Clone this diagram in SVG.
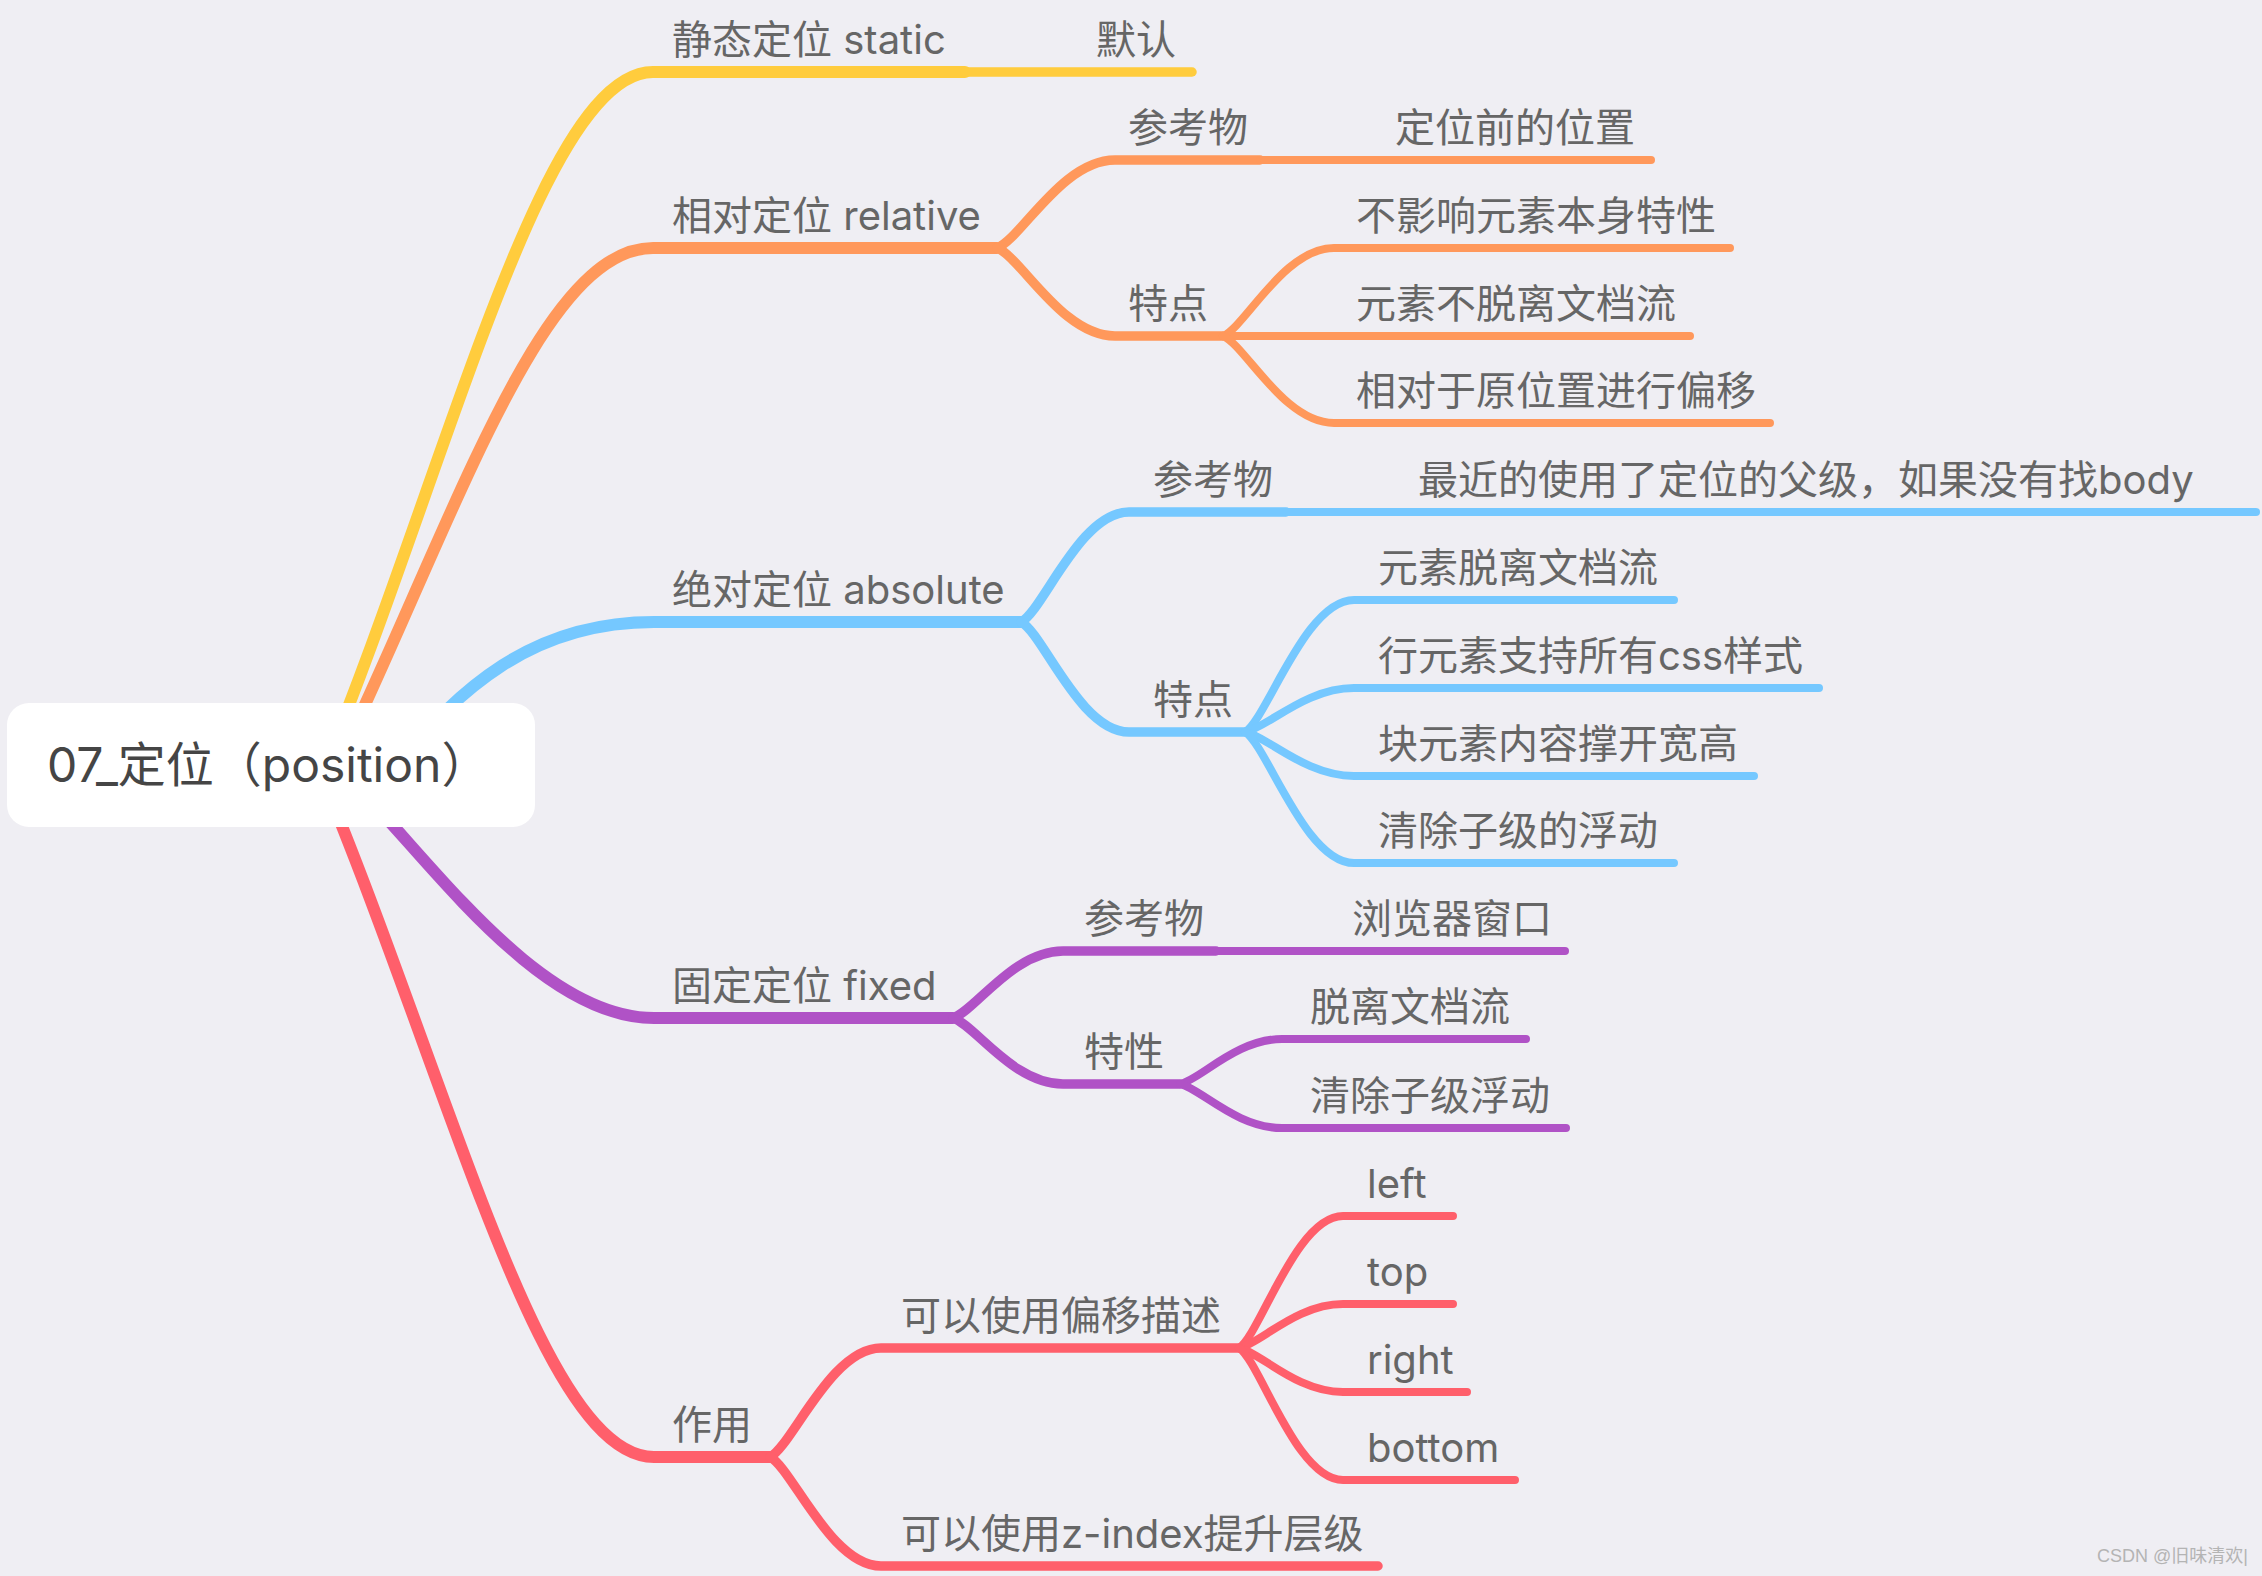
<svg xmlns="http://www.w3.org/2000/svg" width="2262" height="1576" viewBox="0 0 2262 1576">
<style>
.t{font-family:"Inter","Noto Sans CJK SC",sans-serif;font-size:40px;fill:#666}
.root{font-family:"Inter","Noto Sans CJK SC",sans-serif;font-size:48px;fill:#454545}
.wm{font-family:"Liberation Sans","Noto Sans CJK SC",sans-serif;font-size:18px;fill:#b4b4b4}
path{fill:none;stroke-linecap:round;stroke-linejoin:round}
.l1{stroke-width:12}
.l2{stroke-width:9.5}
.l3{stroke-width:8}
.y{stroke:#ffcc3d}
.o{stroke:#ff985b}
.b{stroke:#75c8ff}
.p{stroke:#b052c6}
.r{stroke:#ff5f6b}
</style>
<rect width="2262" height="1576" fill="#efeef3"/>
<g id="connectors">
  <!-- static -->
  <path class="l1 y" d="M315,790 C445,480 540,72 653,72 L965,72"/>
  <path class="l2 y" d="M965,72 L1192,72"/>
  <!-- relative -->
  <path class="l1 o" d="M330,780 C455,520 540,248 653,248 L997,248"/>
  <path class="l2 o" d="M997,248 C1021,239 1062,160 1115,160 L1260,160"/>
  <path class="l3 o" d="M1260,160 L1651,160"/>
  <path class="l2 o" d="M997,248 C1021,257 1062,336 1115,336 L1223,336"/>
  <path class="l3 o" d="M1223,336 C1245,327 1284,248 1334,248 L1730,248"/>
  <path class="l3 o" d="M1223,336 L1690,336"/>
  <path class="l3 o" d="M1223,336 C1245,345 1284,423 1334,423 L1770,423"/>
  <!-- absolute -->
  <path class="l1 b" d="M395,765 C460,690 530,622 654,622 L1021,622"/>
  <path class="l2 b" d="M1021,622 C1043,611 1080,512 1129,512 L1286,512"/>
  <path class="l3 b" d="M1286,512 L2256,512"/>
  <path class="l2 b" d="M1021,622 C1043,633 1080,732 1129,732 L1245,732"/>
  <path class="l3 b" d="M1245,732 C1267,719 1305,600 1354,600 L1674,600"/>
  <path class="l3 b" d="M1245,732 C1267,728 1305,688 1354,688 L1819,688"/>
  <path class="l3 b" d="M1245,732 C1267,736 1305,776 1354,776 L1754,776"/>
  <path class="l3 b" d="M1245,732 C1267,745 1305,863 1354,863 L1674,863"/>
  <!-- fixed -->
  <path class="l1 p" d="M360,790 C430,860 540,1018 654,1018 L953,1018"/>
  <path class="l2 p" d="M953,1018 C975,1011 1013,951 1063,951 L1216,951"/>
  <path class="l3 p" d="M1216,951 L1565,951"/>
  <path class="l2 p" d="M953,1018 C975,1025 1013,1084 1063,1084 L1180,1084"/>
  <path class="l3 p" d="M1180,1084 C1200,1080 1236,1039 1282,1039 L1526,1039"/>
  <path class="l3 p" d="M1180,1084 C1200,1088 1236,1128 1282,1128 L1566,1128"/>
  <!-- effect -->
  <path class="l1 r" d="M315,760 C450,1080 540,1457 654,1457 L770,1457"/>
  <path class="l2 r" d="M770,1457 C792,1446 831,1348 881,1348 L1239,1348"/>
  <path class="l2 r" d="M770,1457 C792,1468 831,1566 881,1566 L1378,1566"/>
  <path class="l3 r" d="M1239,1348 C1260,1335 1296,1216 1343,1216 L1453,1216"/>
  <path class="l3 r" d="M1239,1348 C1260,1344 1296,1304 1343,1304 L1453,1304"/>
  <path class="l3 r" d="M1239,1348 C1260,1352 1296,1392 1343,1392 L1467,1392"/>
  <path class="l3 r" d="M1239,1348 C1260,1361 1296,1480 1343,1480 L1515,1480"/>
</g>
<g id="root">
  <rect x="7" y="703" width="528" height="124" rx="22" fill="#ffffff"/>
  <text class="root" x="47" y="782">07_定位（position）</text>
</g>
<g id="static"><text class="t" x="672" y="54">静态定位 static</text></g>
<g id="static-default"><text class="t" x="1096" y="54">默认</text></g>
<g id="relative"><text class="t" x="672" y="230">相对定位 relative</text></g>
<g id="relative-ref"><text class="t" x="1128" y="142">参考物</text></g>
<g id="relative-ref-val"><text class="t" x="1395" y="142">定位前的位置</text></g>
<g id="relative-feat"><text class="t" x="1128" y="318">特点</text></g>
<g id="relative-feat-1"><text class="t" x="1356" y="230">不影响元素本身特性</text></g>
<g id="relative-feat-2"><text class="t" x="1356" y="318">元素不脱离文档流</text></g>
<g id="relative-feat-3"><text class="t" x="1356" y="405">相对于原位置进行偏移</text></g>
<g id="absolute"><text class="t" x="672" y="604">绝对定位 absolute</text></g>
<g id="absolute-ref"><text class="t" x="1153" y="494">参考物</text></g>
<g id="absolute-ref-val"><text class="t" x="1418" y="494">最近的使用了定位的父级，如果没有找body</text></g>
<g id="absolute-feat"><text class="t" x="1153" y="714">特点</text></g>
<g id="absolute-feat-1"><text class="t" x="1378" y="582">元素脱离文档流</text></g>
<g id="absolute-feat-2"><text class="t" x="1378" y="670">行元素支持所有css样式</text></g>
<g id="absolute-feat-3"><text class="t" x="1378" y="758">块元素内容撑开宽高</text></g>
<g id="absolute-feat-4"><text class="t" x="1378" y="845">清除子级的浮动</text></g>
<g id="fixed"><text class="t" x="672" y="1000">固定定位 fixed</text></g>
<g id="fixed-ref"><text class="t" x="1084" y="933">参考物</text></g>
<g id="fixed-ref-val"><text class="t" x="1352" y="933">浏览器窗口</text></g>
<g id="fixed-feat"><text class="t" x="1084" y="1066">特性</text></g>
<g id="fixed-feat-1"><text class="t" x="1310" y="1021">脱离文档流</text></g>
<g id="fixed-feat-2"><text class="t" x="1310" y="1110">清除子级浮动</text></g>
<g id="effect"><text class="t" x="672" y="1439">作用</text></g>
<g id="effect-offset"><text class="t" x="901" y="1330">可以使用偏移描述</text></g>
<g id="effect-left"><text class="t" x="1367" y="1198">left</text></g>
<g id="effect-top"><text class="t" x="1367" y="1286">top</text></g>
<g id="effect-right"><text class="t" x="1367" y="1374">right</text></g>
<g id="effect-bottom"><text class="t" x="1367" y="1462">bottom</text></g>
<g id="effect-zindex"><text class="t" x="901" y="1548">可以使用z-index提升层级</text></g>
<text class="wm" x="2097" y="1562">CSDN @旧味清欢|</text>
</svg>
